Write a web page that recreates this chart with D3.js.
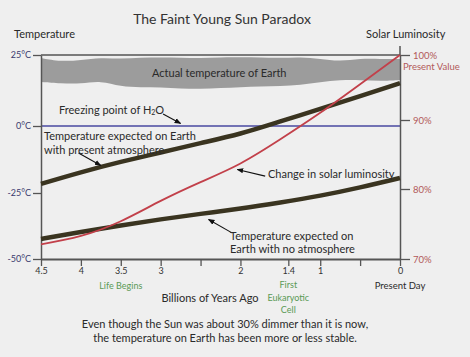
<!DOCTYPE html>
<html><head><meta charset="utf-8">
<script src="https://cdn.jsdelivr.net/npm/d3@7"></script>
<style>
body{margin:0;background:#efefef;}
svg{display:block;}
text{font-family:Lato,"Open Sans",sans-serif;}
</style>
</head><body>
<svg id="chart" width="470" height="357"></svg>
<script>
// ---- data ----
const ages = [4.5, 4, 3.5, 3, 2.5, 2, 1.5, 1, 0.5, 0];
const tempPresentAtmosphere = [-21.6, -17.3, -13.4, -9.9, -6.4, -2.8, 1.6, 6.0, 10.5, 15.1];
const tempNoAtmosphere = [-42.4, -39.8, -37.3, -35.0, -32.9, -30.9, -28.6, -26.0, -22.9, -19.4];
const solarLuminosity = [72.1, 73.3, 75.4, 78.3, 81.0, 83.7, 87.2, 91.1, 95.5, 100];

const bandAges = [4.5, 4.25, 4, 3.75, 3.5, 3.25, 3, 2.75, 2.5, 2.25, 2, 1.75, 1.5, 1.25, 1, 0.75, 0.5, 0.25, 0];
const actualTempHigh = [23.9, 22.7, 23.2, 24.1, 23.6, 24.1, 24.1, 24.1, 23.9, 24.2, 24.2, 24.1, 23.9, 24.3, 23.6, 22.7, 23.8, 23.6, 23.6];
const actualTempLow  = [15.5, 15.0, 14.8, 16.0, 13.8, 13.6, 13.6, 13.2, 13.0, 13.4, 13.7, 13.9, 14.1, 14.4, 15.5, 16.2, 16.2, 15.8, 16.2];

const freezingPoint = 0;
const tempTicks = [25, 0, -25, -50];
const tempTickLabels = ["25°C", "0°C", "-25°C", "-50°C"];
const lumTicks = [100, 90, 80, 70];
const lumTickLabels = ["100%", "90%", "80%", "70%"];
const ageTicks = [4.5, 4, 3.5, 3, 2.5, 2, 1.4, 1, 0.5, 0];
const ageTickLabels = ["4.5", "4", "3.5", "3", "", "2", "1.4", "1", "", "0"];

// annotation arrows: [fromAge, fromTemp, toAge, toTemp]
const arrows = [
  [2.97, 4.2, 2.75, 0.9],
  [4.03, -10.1, 3.75, -14.7],
  [1.69, -18.7, 2.04, -16.2],
  [2.10, -40.2, 2.40, -35.0]
];

// ---- scales ----
const svg = d3.select("#chart");
const x = d3.scaleLinear().domain([4.5, 0]).range([41, 400]);
const yT = d3.scaleLinear().domain([-50, -25, 0, 25]).range([259, 193, 126, 55]);
const yL = d3.scaleLinear().domain([70, 80, 90, 100]).range([259, 189, 120, 55]);

const axisColor = "#555";
const darkLine = "#3a3420";
const redLine = "#c2404a";
const textColor = "#2a2a2a";
const tickBlue = "#3a3a6e";
const lumColor = "#b25a5a";
const green = "#5a9a55";

// defs
svg.append("defs").append("marker")
  .attr("id", "ah").attr("viewBox", "0 0 10 10").attr("refX", 9).attr("refY", 5)
  .attr("markerWidth", 6).attr("markerHeight", 6).attr("orient", "auto")
  .append("path").attr("d", "M0,1 L10,5 L0,9 Z").attr("fill", "#111");

// gray band
const band = bandAges.map((a, i) => ({age: a, hi: actualTempHigh[i], lo: actualTempLow[i]}));
svg.append("path").datum(band)
  .attr("d", d3.area().x(d => x(d.age)).y0(d => yT(d.lo)).y1(d => yT(d.hi)).curve(d3.curveBasis))
  .attr("fill", "#9c9c9c");

// top frame line
svg.append("line").attr("x1", x(4.5)).attr("x2", x(0)).attr("y1", yT(25)).attr("y2", yT(25))
  .attr("stroke", axisColor).attr("stroke-width", 1.3);

// freezing line
svg.append("line").attr("x1", x(4.5)).attr("x2", x(0)).attr("y1", yT(freezingPoint)).attr("y2", yT(freezingPoint))
  .attr("stroke", "#4848a0").attr("stroke-width", 1.5);

// axes
const gL = svg.append("g").attr("transform", `translate(${x(4.5)},0)`)
  .call(d3.axisLeft(yT).tickValues(tempTicks).tickFormat((d, i) => tempTickLabels[i]).tickSize(8).tickSizeOuter(0).tickPadding(2));
gL.selectAll("text").attr("fill", tickBlue).attr("font-size", 9);
gL.selectAll("line").attr("stroke", axisColor).attr("stroke-width", 1.3);
gL.select(".domain").attr("stroke", axisColor).attr("stroke-width", 1.5);

const gR = svg.append("g").attr("transform", `translate(${x(0)},0)`)
  .call(d3.axisRight(yL).tickValues(lumTicks).tickFormat((d, i) => lumTickLabels[i]).tickSize(10).tickSizeOuter(0).tickPadding(3));
gR.selectAll("text").attr("fill", lumColor).attr("font-size", 9.5);
gR.selectAll("line").attr("stroke", axisColor).attr("stroke-width", 1.3);
gR.select(".domain").attr("stroke", axisColor).attr("stroke-width", 1.5);
svg.append("line").attr("x1", x(0)).attr("x2", x(0)).attr("y1", 46).attr("y2", yL(100))
  .attr("stroke", axisColor).attr("stroke-width", 1.5);

const gB = svg.append("g").attr("transform", `translate(0,${yT(-50)})`)
  .call(d3.axisBottom(x).tickValues(ageTicks).tickFormat((d, i) => ageTickLabels[i]).tickSize(7).tickSizeOuter(0).tickPadding(2));
gB.selectAll("text").attr("fill", "#333").attr("font-size", 9);
gB.selectAll("line").attr("stroke", axisColor).attr("stroke-width", 1.3);
gB.select(".domain").attr("stroke", axisColor).attr("stroke-width", 2);

// data lines
const pa = ages.map((a, i) => ({age: a, v: tempPresentAtmosphere[i]}));
const na = ages.map((a, i) => ({age: a, v: tempNoAtmosphere[i]}));
const sl = ages.map((a, i) => ({age: a, v: solarLuminosity[i]}));
const lineT = d3.line().x(d => x(d.age)).y(d => yT(d.v)).curve(d3.curveNatural);
const lineL = d3.line().x(d => x(d.age)).y(d => yL(d.v)).curve(d3.curveNatural);

svg.append("path").datum(na).attr("d", lineT).attr("fill", "none").attr("stroke", darkLine).attr("stroke-width", 4.5);
svg.append("path").datum(pa).attr("d", lineT).attr("fill", "none").attr("stroke", darkLine).attr("stroke-width", 4.5);
svg.append("path").datum(sl).attr("d", lineL).attr("fill", "none").attr("stroke", redLine).attr("stroke-width", 1.8);

// arrows
arrows.forEach(a => {
  svg.append("line").attr("x1", x(a[0])).attr("y1", yT(a[1])).attr("x2", x(a[2])).attr("y2", yT(a[3]))
    .attr("stroke", "#111").attr("stroke-width", 1.1).attr("marker-end", "url(#ah)");
});

// texts
function txt(t, px, py, opts = {}) {
  const e = svg.append("text").attr("x", px).attr("y", py).text(t)
    .attr("font-size", opts.size || 11).attr("fill", opts.fill || textColor)
    .attr("text-anchor", opts.anchor || "start").attr("dominant-baseline", "central");
  return e;
}
txt("The Faint Young Sun Paradox", 222, 18, {size: 14, anchor: "middle", fill: "#333"});
txt("Temperature", 14, 33, {size: 11});
txt("Solar Luminosity", 366, 33, {size: 11});
txt("Present Value", 403, 66, {size: 9.5, fill: lumColor});
txt("Actual temperature of Earth", 152, 72, {size: 11});
const fp = svg.append("text").attr("x", 59).attr("y", 109).attr("font-size", 11).attr("fill", textColor)
  .attr("dominant-baseline", "central");
fp.append("tspan").text("Freezing point of H");
fp.append("tspan").text("2").attr("font-size", 7).attr("dy", 3);
fp.append("tspan").text("O").attr("dy", -3);
txt("Temperature expected on Earth", 44, 135, {size: 11});
txt("with present atmosphere", 44, 149, {size: 11});
txt("Change in solar luminosity", 268, 173, {size: 11});
txt("Temperature expected on", 230, 235, {size: 11});
txt("Earth with no atmosphere", 230, 248, {size: 11});
txt("Life Begins", x(3.5), 285, {size: 9, anchor: "middle", fill: green});
txt("First", x(1.4), 284, {size: 9, anchor: "middle", fill: green});
txt("Eukaryotic", x(1.4), 297, {size: 9, anchor: "middle", fill: green});
txt("Cell", x(1.4), 309, {size: 9, anchor: "middle", fill: green});
txt("Present Day", x(0), 285, {size: 9.5, anchor: "middle"});
txt("Billions of Years Ago", 210, 297, {size: 11, anchor: "middle"});
txt("Even though the Sun was about 30% dimmer than it is now,", 225, 323, {size: 11, anchor: "middle"});
txt("the temperature on Earth has been more or less stable.", 225, 337, {size: 11, anchor: "middle"});
</script>
</body></html>
